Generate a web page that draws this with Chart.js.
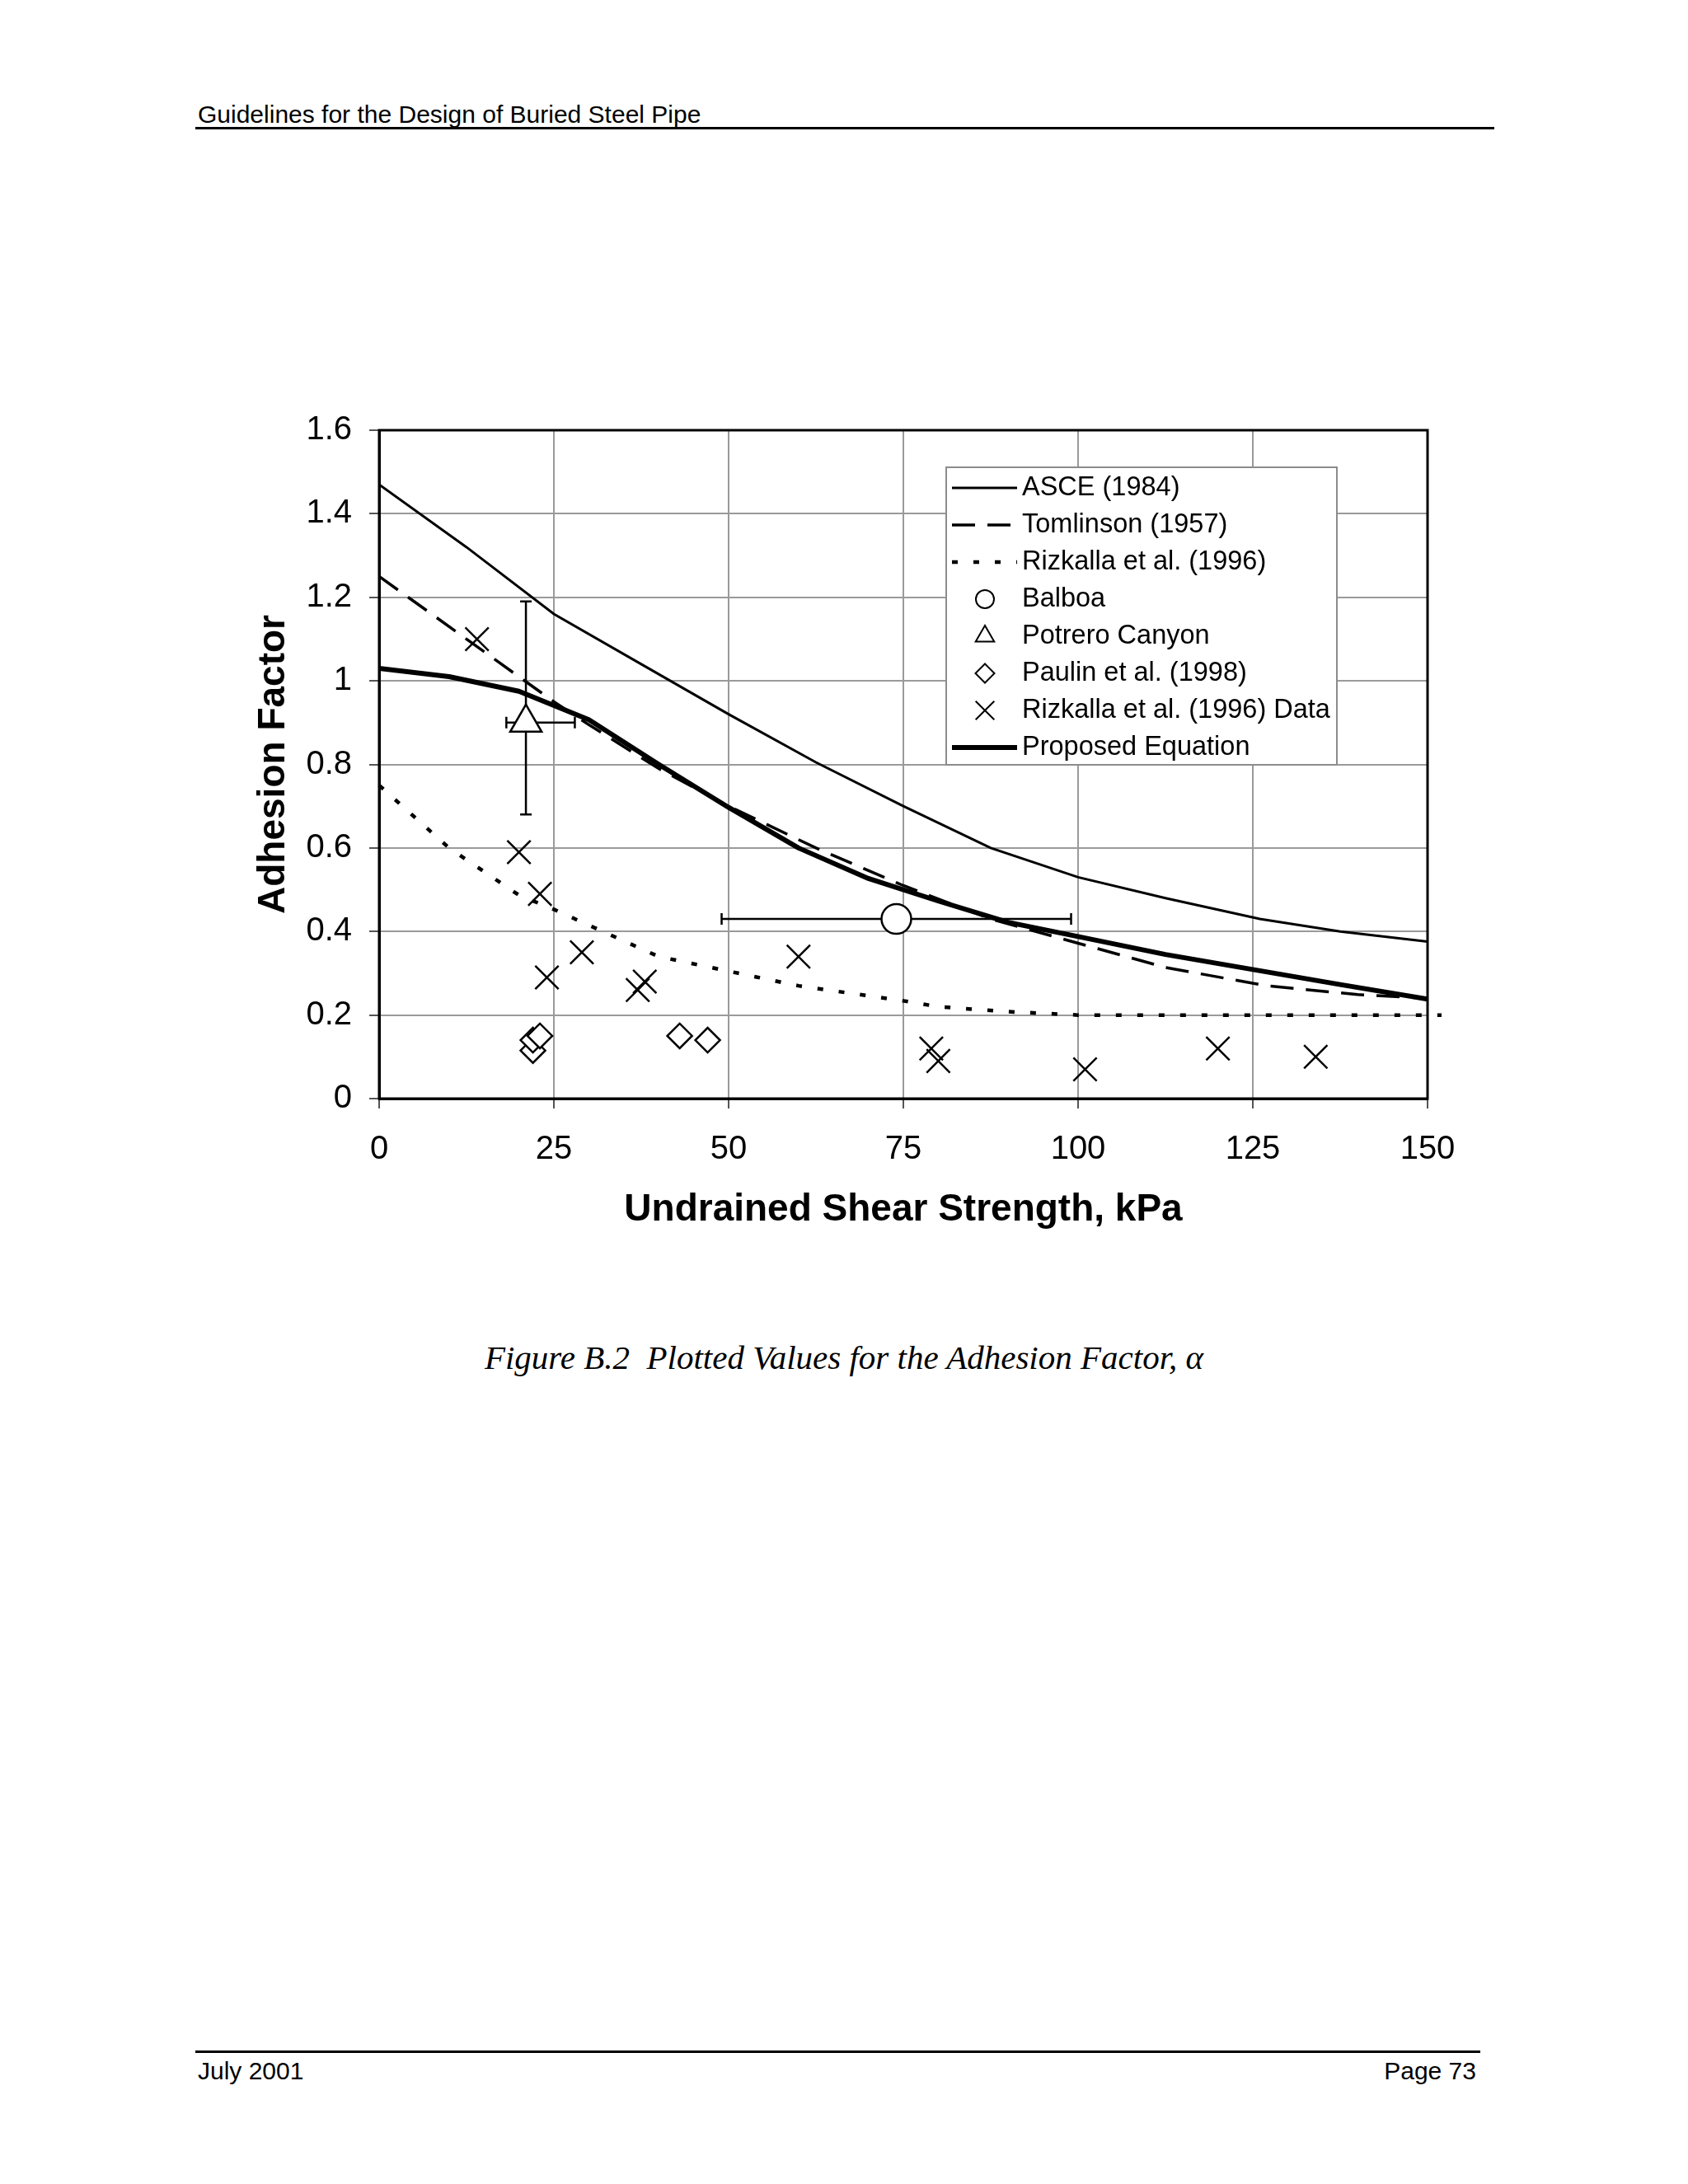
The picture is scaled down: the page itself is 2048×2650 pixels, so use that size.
<!DOCTYPE html>
<html>
<head>
<meta charset="utf-8">
<title>Figure B.2 Adhesion Factor</title>
<script src="https://cdn.jsdelivr.net/npm/chart.js@4.4.1/dist/chart.umd.min.js"></script>
<style>
  html, body { margin: 0; padding: 0; background: #fff; }
  body { width: 2048px; height: 2650px; position: relative; overflow: hidden;
         font-family: "Liberation Sans", Arial, sans-serif; color: #000; }
  .rule { position: absolute; background: #000; height: 3px; }
  .txt { position: absolute; font-size: 30px; line-height: 30px; white-space: nowrap; }
  #chartBox { position: absolute; left: 240px; top: 470px; width: 1560px; height: 1060px; }
  #caption { position: absolute; left: 0; width: 2048px; top: 1627px; text-align: center;
             font: italic 41px/41px "Liberation Serif", "Times New Roman", serif; white-space: pre; }
</style>
</head>
<body>
<div class="txt" style="left:240px; top:124px;">Guidelines for the Design of Buried Steel Pipe</div>
<div class="rule" style="left:237px; top:154px; width:1576px;"></div>

<div id="chartBox"><canvas id="adhesionChart" width="1560" height="1060"></canvas></div>

<div id="caption">Figure B.2  Plotted Values for the Adhesion Factor, α</div>

<div class="rule" style="left:237px; top:2488px; width:1559px;"></div>
<div class="txt" style="left:240px; top:2498px;">July 2001</div>
<div class="txt" style="right:257px; top:2498px;">Page 73</div>

<script>
// curves (undrained shear strength kPa -> adhesion factor)
const asceX = [0, 12.5, 25, 37.5, 50, 62.5, 75, 87.5, 100, 112.5, 126, 137.5, 150];
const asceY = [1.47, 1.32, 1.16, 1.04, 0.92, 0.805, 0.70, 0.60, 0.53, 0.48, 0.43, 0.40, 0.376];

const tomlinsonX = [0, 25, 30, 40, 50, 62.5, 75, 87.5, 100, 112.5, 127, 140, 150];
const tomlinsonY = [1.25, 0.95, 0.895, 0.79, 0.70, 0.60, 0.51, 0.43, 0.372, 0.314, 0.27, 0.249, 0.24];

const rizkallaX = [0, 10, 20, 25, 30, 40, 50, 60, 75, 80, 90, 100, 152];
const rizkallaY = [0.75, 0.60, 0.487, 0.453, 0.415, 0.34, 0.305, 0.27, 0.234, 0.22, 0.208, 0.20, 0.20];

const proposedX = [0, 10, 20, 30, 40, 50, 60, 70, 80, 90, 100, 112.5, 125, 137.5, 150];
const proposedY = [1.03, 1.01, 0.975, 0.907, 0.80, 0.697, 0.60, 0.527, 0.473, 0.422, 0.388, 0.345, 0.309, 0.273, 0.238];

// measured points
const balboaX = [74];
const balboaY = [0.43];
const balboaXErr = [[49, 99]];

const potreroX = [21];
const potreroY = [0.90];
const potreroXErr = [[18.2, 28]];
const potreroYErr = [[0.68, 1.19]];

const paulinX = [22, 22, 23, 43, 47];
const paulinY = [0.115, 0.14, 0.15, 0.15, 0.14];

const rizDataX = [14, 20, 23, 24, 29, 37, 38, 60, 79, 80, 101, 120, 134];
const rizDataY = [1.10, 0.59, 0.49, 0.29, 0.35, 0.26, 0.28, 0.34, 0.12, 0.09, 0.07, 0.12, 0.10];

const xTickStep = 25;
const yTickStep = 0.2;

const pts = (xs, ys) => xs.map((x, i) => ({ x: x, y: ys[i] }));

const FONT = 'Liberation Sans';

// black frame round the plot area
const frame = {
    id: 'frame',
    beforeDatasetsDraw(chart) {
        const { ctx, chartArea: a } = chart;
        ctx.save();
        ctx.strokeStyle = '#000';
        ctx.lineWidth = 3;
        ctx.strokeRect(a.left, a.top, a.right - a.left, a.bottom - a.top);
        ctx.restore();
    }
};

// error bars, drawn under the markers
const errorBars = {
    id: 'errorBars',
    beforeDatasetsDraw(chart) {
        const { ctx, scales: { x, y } } = chart;
        const cap = 7;
        ctx.save();
        ctx.strokeStyle = '#000';
        ctx.lineWidth = 2.5;
        const hBar = (yv, x0, x1) => {
            const py = y.getPixelForValue(yv), p0 = x.getPixelForValue(x0), p1 = x.getPixelForValue(x1);
            ctx.beginPath();
            ctx.moveTo(p0, py); ctx.lineTo(p1, py);
            ctx.moveTo(p0, py - cap); ctx.lineTo(p0, py + cap);
            ctx.moveTo(p1, py - cap); ctx.lineTo(p1, py + cap);
            ctx.stroke();
        };
        const vBar = (xv, y0, y1) => {
            const px = x.getPixelForValue(xv), p0 = y.getPixelForValue(y0), p1 = y.getPixelForValue(y1);
            ctx.beginPath();
            ctx.moveTo(px, p0); ctx.lineTo(px, p1);
            ctx.moveTo(px - cap, p0); ctx.lineTo(px + cap, p0);
            ctx.moveTo(px - cap, p1); ctx.lineTo(px + cap, p1);
            ctx.stroke();
        };
        balboaXErr.forEach((e, i) => hBar(balboaY[i], e[0], e[1]));
        potreroXErr.forEach((e, i) => hBar(potreroY[i], e[0], e[1]));
        potreroYErr.forEach((e, i) => vBar(potreroX[i], e[0], e[1]));
        ctx.restore();
    }
};

// legend box inside the plot, like the spreadsheet one
const boxLegend = {
    id: 'boxLegend',
    afterDraw(chart) {
        const { ctx, chartArea: a } = chart;
        const left = a.left + 688, top = a.top + 45, w = 474, h = 361, row = 45;
        ctx.save();
        ctx.fillStyle = '#fff';
        ctx.fillRect(left, top, w, h);
        ctx.strokeStyle = '#8c8c8c';
        ctx.lineWidth = 2;
        ctx.strokeRect(left, top, w, h);
        ctx.font = '32.5px "' + FONT + '"';
        ctx.textBaseline = 'middle';
        ctx.textAlign = 'left';
        chart.data.datasets.forEach((ds, i) => {
            const cy = top + 25 + i * row;
            ctx.strokeStyle = '#000';
            ctx.fillStyle = '#fff';
            if (ds.showLine === false) {
                ctx.lineWidth = 2;
                ctx.setLineDash([]);
                Chart.helpers.drawPoint(ctx, {
                    pointStyle: ds.pointStyle, radius: ds.legendRadius, rotation: 0, borderWidth: 2
                }, left + 47, cy);
            } else {
                ctx.lineWidth = ds.borderWidth;
                ctx.setLineDash(ds.borderDash || []);
                ctx.lineCap = 'butt';
                ctx.beginPath();
                ctx.moveTo(left + 7, cy);
                ctx.lineTo(left + 86, cy);
                ctx.stroke();
                ctx.setLineDash([]);
            }
            ctx.fillStyle = '#000';
            ctx.fillText(ds.label, left + 92, cy);
        });
        ctx.restore();
    }
};

const lineStyle = { showLine: true, pointRadius: 0, fill: false, tension: 0, borderColor: '#000', order: 2 };
const markStyle = { showLine: false, borderColor: '#000', pointBorderColor: '#000',
                    pointBackgroundColor: '#fff', order: 1 };

new Chart(document.getElementById('adhesionChart').getContext('2d'), {
    type: 'scatter',
    data: {
        datasets: [
            { ...lineStyle, label: 'ASCE (1984)', data: pts(asceX, asceY), borderWidth: 3, borderCapStyle: 'round' },
            { ...lineStyle, label: 'Tomlinson (1957)', data: pts(tomlinsonX, tomlinsonY), borderWidth: 3.5, borderDash: [28, 15] },
            { ...lineStyle, label: 'Rizkalla et al. (1996)', data: pts(rizkallaX, rizkallaY), borderWidth: 4.5, borderDash: [7, 19], clip: false },
            { ...markStyle, label: 'Balboa', data: pts(balboaX, balboaY), pointStyle: 'circle', pointRadius: 18, pointBorderWidth: 2.5, legendRadius: 11 },
            { ...markStyle, label: 'Potrero Canyon', data: pts(potreroX, potreroY), pointStyle: 'triangle', pointRadius: 22, pointBorderWidth: 2.5, legendRadius: 13 },
            { ...markStyle, label: 'Paulin et al. (1998)', data: pts(paulinX, paulinY), pointStyle: 'rectRot', pointRadius: 15, pointBorderWidth: 2.5, legendRadius: 11.5 },
            { ...markStyle, label: 'Rizkalla et al. (1996) Data', data: pts(rizDataX, rizDataY), pointStyle: 'crossRot', pointRadius: 20, pointBorderWidth: 2.5, legendRadius: 16 },
            { ...lineStyle, label: 'Proposed Equation', data: pts(proposedX, proposedY), borderWidth: 6, borderCapStyle: 'round', borderJoinStyle: 'round' }
        ]
    },
    options: {
        responsive: false,
        animation: false,
        devicePixelRatio: 1,
        layout: { padding: { left: 20, right: 68, top: 52, bottom: 27 } },
        plugins: { legend: { display: false }, tooltip: { enabled: false } },
        scales: {
            x: {
                type: 'linear', min: 0, max: 150,
                ticks: { stepSize: xTickStep, padding: 26, color: '#000', font: { family: FONT, size: 40 } },
                grid: { color: '#9a9a9a', lineWidth: 2, tickLength: 12, tickColor: '#555' },
                border: { color: '#000', width: 3 },
                title: { display: true, text: 'Undrained Shear Strength, kPa', color: '#000',
                         font: { family: FONT, size: 46, weight: 'bold' }, padding: { top: 0, bottom: 7 } },
                afterFit: s => { s.height = 170; }
            },
            y: {
                type: 'linear', min: 0, max: 1.6,
                ticks: { stepSize: yTickStep, padding: 21, color: '#000', font: { family: FONT, size: 40 },
                         callback: v => String(+v.toFixed(1)) },
                grid: { color: '#9a9a9a', lineWidth: 2, tickLength: 12, tickColor: '#555' },
                border: { color: '#000', width: 3 },
                title: { display: true, text: 'Adhesion Factor', color: '#000',
                         font: { family: FONT, size: 46, weight: 'bold' }, padding: { top: 45, bottom: 0 } },
                afterFit: s => { s.width = 200; }
            }
        }
    },
    plugins: [frame, errorBars, boxLegend]
});
</script>
</body>
</html>
